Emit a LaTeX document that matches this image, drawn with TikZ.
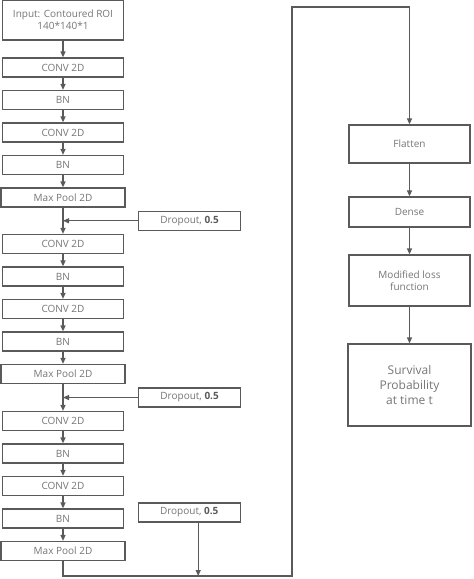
\documentclass[tikz,border=0pt]{standalone}
\usepackage{fontspec}
\setmainfont{Open Sans}
\usetikzlibrary{positioning, arrows.meta}
\definecolor{boxline}{HTML}{5A5A5A}
\definecolor{boxtext}{HTML}{767676}
\tikzset{
    layer/.style={rectangle, draw=boxline, fill=white, line width=1.2pt, minimum width=121pt, minimum height=19pt, inner sep=1pt, text=boxtext, font=\fontsize{10}{12}\selectfont},
    pool/.style={layer, minimum width=124pt},
    drop/.style={layer, minimum width=102pt},
    head/.style={layer, minimum height=40pt, align=center},
    outbox/.style={layer, align=center, font=\fontsize{12}{15}\selectfont},
}
\begin{document}
\begin{tikzpicture}[node distance=12.3pt, >={Triangle[width=5pt,length=6pt]}, line width=1.2pt, draw=boxline]
    \useasboundingbox (0,0) rectangle (474pt,-579pt);
    % feature extractor
    \node [head] (input) at (63pt,-20pt) {Input: Contoured ROI\\140*140*1};
    \node [layer] (conv1) [below=16.8pt of input] {CONV 2D};
    \node [layer] (bn1) [below=of conv1] {BN};
    \node [layer] (conv2) [below=of bn1] {CONV 2D};
    \node [layer] (bn2) [below=of conv2] {BN};
    \node [pool] (pool1) [below=of bn2] {Max Pool 2D};
    \node [layer] (conv3) [below=26.3pt of pool1] {CONV 2D};
    \node [layer] (bn3) [below=of conv3] {BN};
    \node [layer] (conv4) [below=of bn3] {CONV 2D};
    \node [layer] (bn4) [below=of conv4] {BN};
    \node [pool] (pool2) [below=of bn4] {Max Pool 2D};
    \node [layer] (conv5) [below=26.8pt of pool2] {CONV 2D};
    \node [layer] (bn5) [below=of conv5] {BN};
    \node [layer] (conv6) [below=of bn5] {CONV 2D};
    \node [layer] (bn6) [below=of conv6] {BN};
    \node [pool] (pool3) [below=of bn6] {Max Pool 2D};
    \coordinate [below=13.15pt of pool1] (j1);
    \coordinate [below=13.4pt of pool2] (j2);
    \node [drop] (drop1) [right=75pt of j1] {Dropout, \textcolor{boxline}{\textbf{0.5}}};
    \node [drop] (drop2) [right=75pt of j2] {Dropout, \textcolor{boxline}{\textbf{0.5}}};
    \node [drop] (drop3) [right=13.5pt of bn6, yshift=6pt] {Dropout, \textcolor{boxline}{\textbf{0.5}}};
    % head
    \node [layer, minimum height=38pt] (flatten) at (409.5pt,-144pt) {Flatten};
    \node [layer, minimum height=30pt] (dense) [below=32.8pt of flatten] {Dense};
    \node [layer, minimum height=51pt, align=center] (loss) [below=26.8pt of dense] {Modified loss\\function};
    \node [outbox, minimum width=123pt, minimum height=82pt] (surv) [below=36.8pt of loss] {Survival\\Probability\\at time t};
    \coordinate (bl) at (63pt,-576pt);
    \coordinate (br) at (292pt,-576pt);
    \coordinate (tr) at (292pt,-7pt);
    \draw[->] (input) -- (conv1);
    \draw[->] (conv1) -- (bn1);
    \draw[->] (bn1) -- (conv2);
    \draw[->] (conv2) -- (bn2);
    \draw[->] (bn2) -- (pool1);
    \draw[->] (pool1) -- (conv3);
    \draw[->] (conv3) -- (bn3);
    \draw[->] (bn3) -- (conv4);
    \draw[->] (conv4) -- (bn4);
    \draw[->] (bn4) -- (pool2);
    \draw[->] (pool2) -- (conv5);
    \draw[->] (conv5) -- (bn5);
    \draw[->] (bn5) -- (conv6);
    \draw[->] (conv6) -- (bn6);
    \draw[->] (bn6) -- (pool3);
    \draw[->] (drop1) -- (j1);
    \draw[->] (drop2) -- (j2);
    \draw[->] ([xshift=9pt]drop3.south) -- ([xshift=9pt]drop3.south |- br);
    \draw[->] (pool3) -- (bl) -- (br) -- (tr) -| (flatten);
    \draw[->] (flatten) -- (dense);
    \draw[->] (dense) -- (loss);
    \draw[->] (loss) -- (surv);
\end{tikzpicture}
\end{document}
